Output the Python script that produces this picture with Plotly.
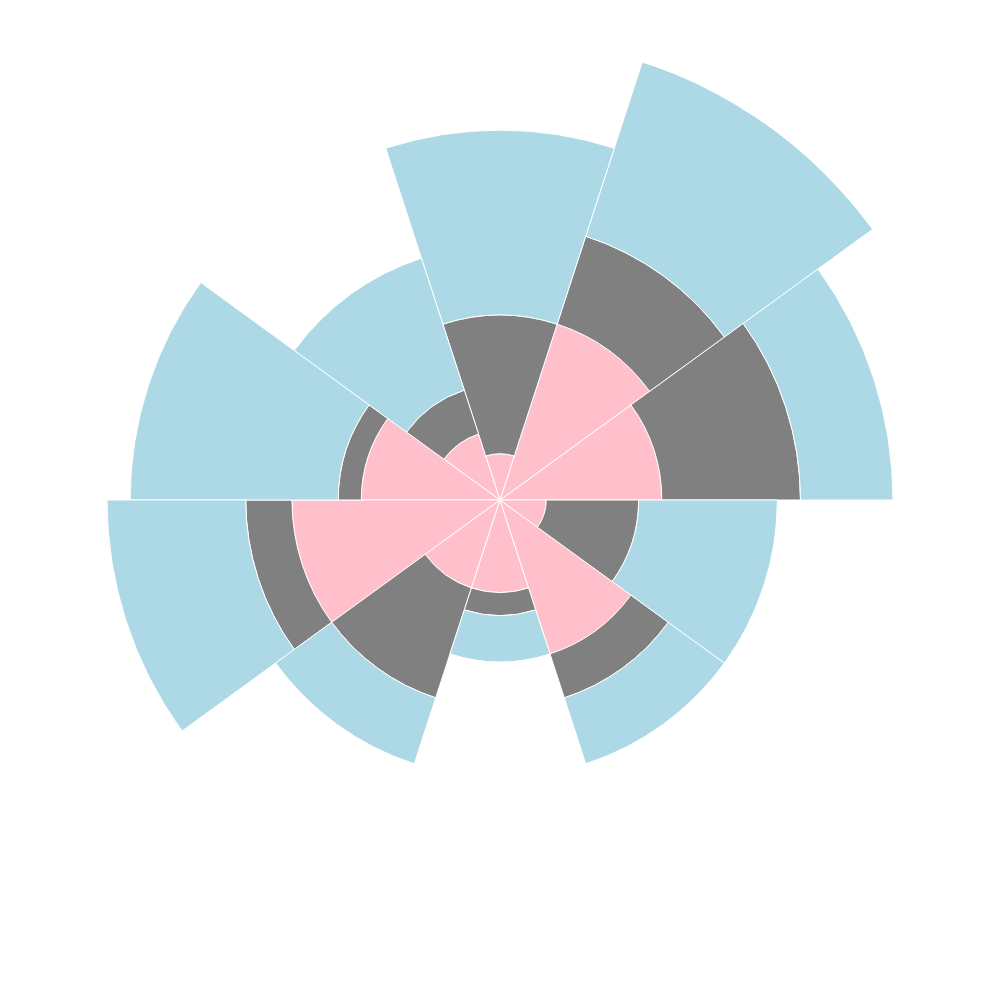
import plotly.graph_objects as go

angles = [18, 54, 90, 126, 162, 198, 234, 270, 306, 342]
pink_vals = [7, 8, 2, 3, 6, 9, 4, 4, 7, 2]
gray_vals = [6, 4, 6, 2, 1, 2, 5, 1, 2, 4]
blue_vals = [4, 8, 8, 6, 9, 6, 3, 2, 3, 6]

fig = go.Figure()
for vals, color in [(pink_vals, "pink"), (gray_vals, "gray"), (blue_vals, "lightblue")]:
    fig.add_trace(
        go.Barpolar(
            r=vals,
            theta=angles,
            width=[36] * len(angles),
            marker=dict(color=color, line=dict(color="white", width=1)),
        )
    )

fig.update_layout(
    width=1000,
    height=1000,
    margin=dict(l=32, r=48, t=32, b=48),
    showlegend=False,
    paper_bgcolor="white",
    polar=dict(
        bgcolor="white",
        radialaxis=dict(visible=False, range=[0, 19.9]),
        angularaxis=dict(visible=False),
    ),
)

fig.write_html("out.html")
